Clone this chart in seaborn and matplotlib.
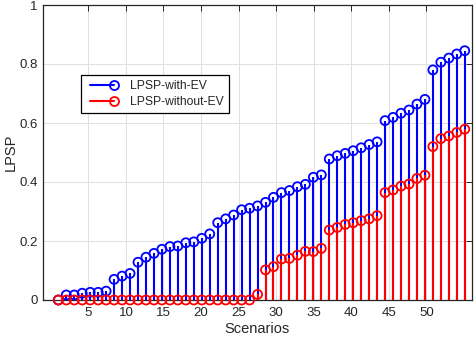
import numpy as np
import pandas as pd
import matplotlib
matplotlib.use("Agg")
import matplotlib.pyplot as plt
import seaborn as sns
from matplotlib.lines import Line2D
from matplotlib.legend_handler import HandlerLine2D

# ---------------- data ----------------
scenarios = list(range(1, 53))
lpsp_with_ev = [
    0.000, 0.017, 0.017, 0.023, 0.026, 0.026, 0.030, 0.070, 0.081, 0.090,
    0.128, 0.145, 0.158, 0.172, 0.181, 0.183, 0.194, 0.197, 0.209, 0.224,
    0.262, 0.275, 0.288, 0.306, 0.311, 0.319, 0.331, 0.348, 0.364, 0.371,
    0.384, 0.392, 0.416, 0.424, 0.478, 0.489, 0.497, 0.506, 0.516, 0.527,
    0.536, 0.608, 0.619, 0.633, 0.644, 0.664, 0.680, 0.780, 0.806, 0.820,
    0.834, 0.845,
]
lpsp_without_ev = [
    0.000, 0.000, 0.000, 0.000, 0.000, 0.000, 0.000, 0.000, 0.000, 0.000,
    0.000, 0.000, 0.000, 0.000, 0.000, 0.000, 0.000, 0.000, 0.000, 0.000,
    0.000, 0.000, 0.000, 0.000, 0.000, 0.019, 0.102, 0.113, 0.139, 0.141,
    0.152, 0.165, 0.164, 0.175, 0.237, 0.246, 0.256, 0.262, 0.269, 0.275,
    0.286, 0.364, 0.373, 0.386, 0.393, 0.412, 0.423, 0.520, 0.547, 0.556,
    0.568, 0.579,
]
series_names = ["LPSP-with-EV", "LPSP-without-EV"]
x_tick_labels = [5, 10, 15, 20, 25, 30, 35, 40, 45, 50]
y_ticks = [0, 0.2, 0.4, 0.6, 0.8, 1.0]
y_tick_labels = ["0", "0.2", "0.4", "0.6", "0.8", "1"]
x_label = "Scenarios"
y_label = "LPSP"

# ---------------- style ----------------
sns.set_theme(style="white")
plt.rcParams['font.family'] = ['Liberation Sans', 'DejaVu Sans']
dark = "#262626"
colors = ["#0000ff", "#ff0000"]

df = pd.DataFrame({
    "Scenario": scenarios * 2,
    "LPSP": lpsp_with_ev + lpsp_without_ev,
    "Series": [series_names[0]] * len(scenarios) + [series_names[1]] * len(scenarios),
})

fig = plt.figure(figsize=(4.74, 3.42), dpi=100)
ax = fig.add_axes([43 / 474, 1 - 300 / 342, (471.7 - 43) / 474, 295 / 342])

for i, (name, col) in enumerate(zip(series_names, colors)):
    sub = df[df["Series"] == name]
    ax.vlines(sub["Scenario"], 0, sub["LPSP"], color=col, lw=1.5, zorder=3 + 2 * i)
    sns.scatterplot(data=sub, x="Scenario", y="LPSP", ax=ax, color=col,
                    facecolor="none", edgecolor=col, linewidth=1.3, s=42,
                    marker="o", legend=False, zorder=4 + 2 * i, clip_on=False)

# axis scaling: stems are slightly wider spaced than tick units
scale = 7.51 / 7.97
tick_pos = [1 + (v - 1) * scale for v in x_tick_labels]
ax.set_xlim(-0.92, 52.87)
ax.set_ylim(0, 1)
ax.set_xticks(tick_pos)
ax.set_xticklabels([str(v) for v in x_tick_labels])
ax.set_yticks(y_ticks)
ax.set_yticklabels(y_tick_labels)

ax.grid(True, color="#e0e0e0", lw=0.7, zorder=0)
ax.set_axisbelow(True)
for sp in ax.spines.values():
    sp.set_color(dark)
    sp.set_linewidth(0.9)
    sp.set_visible(True)
ax.tick_params(direction="in", length=4, width=0.7, colors=dark,
               top=True, right=True, labelsize=9.5)
ax.tick_params(axis="x", pad=5)
ax.tick_params(axis="y", pad=4)
for lab in ax.get_xticklabels() + ax.get_yticklabels():
    lab.set_color(dark)

ax.set_xlabel(x_label, fontsize=10.5, color=dark, labelpad=2)
ax.set_ylabel(y_label, fontsize=10.5, color=dark, labelpad=1)


class EndMarkerHandler(HandlerLine2D):
    def create_artists(self, *args, **kwargs):
        arts = super().create_artists(*args, **kwargs)
        for a in arts:
            a.set_markevery([1])
        return arts


handles = [
    Line2D([], [], color=c, lw=1.5, marker="o", markersize=6.5,
           markerfacecolor="none", markeredgecolor=c, markeredgewidth=1.3)
    for c in colors
]
leg = ax.legend(handles, series_names, loc="upper left",
                bbox_to_anchor=(0.0886, 0.763), borderaxespad=0,
                numpoints=2, fontsize=8.7, frameon=True, fancybox=False,
                framealpha=1, edgecolor="#000000", handlelength=2.6,
                handletextpad=1.0, borderpad=0.45, labelspacing=0.3,
                handler_map={Line2D: EndMarkerHandler()})
leg.get_frame().set_linewidth(0.9)
for t in leg.get_texts():
    t.set_color(dark)

fig.savefig("out.png", dpi=100)
